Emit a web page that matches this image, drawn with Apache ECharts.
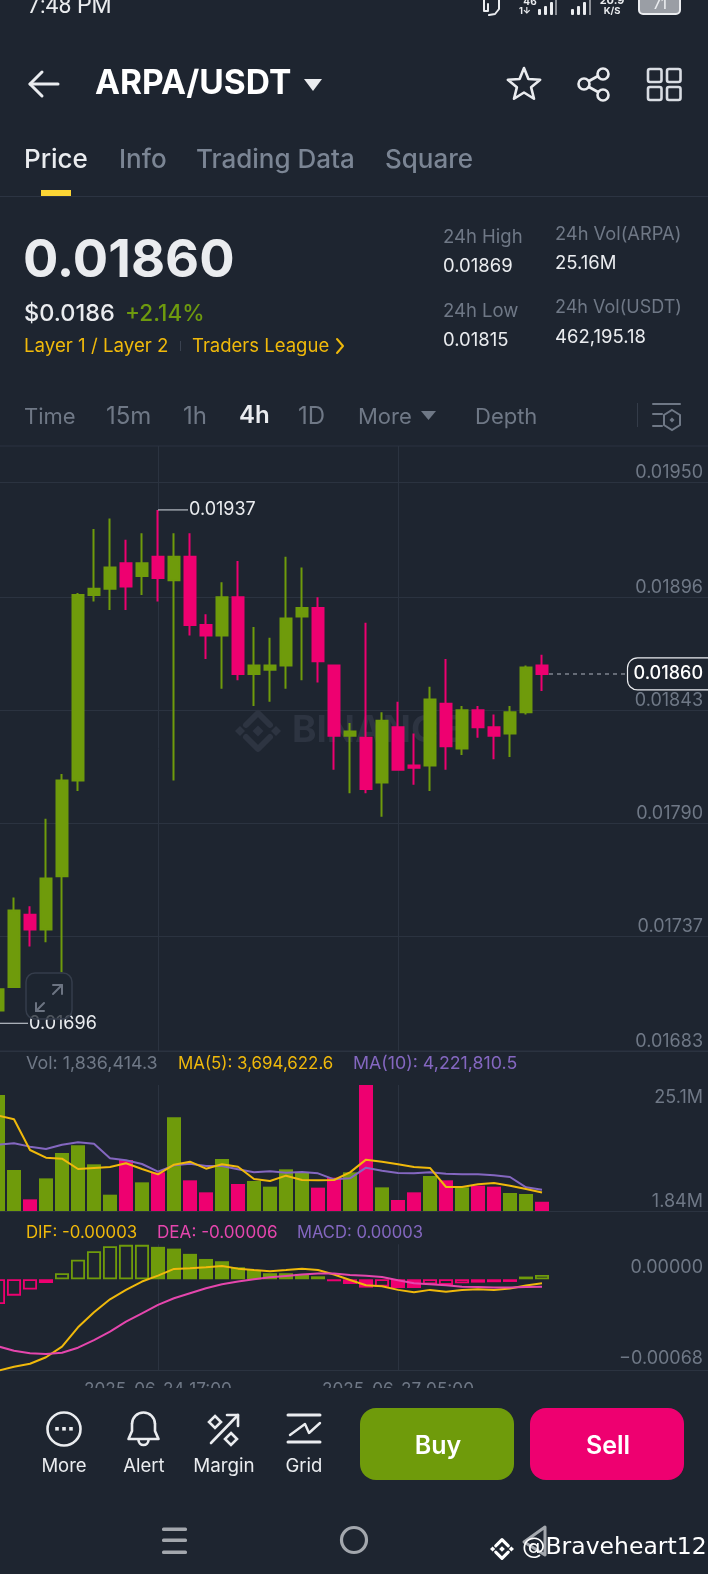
<!DOCTYPE html>
<html><head><meta charset="utf-8">
<style>html,body{margin:0;padding:0;background:#1e2530}#c{width:708px;height:1574px}</style>
<script src="https://cdn.jsdelivr.net/npm/echarts@6/dist/echarts.min.js"></script>
</head><body><div id="c"></div>
<script>
const categories = [
'2025-06-23 01:00','2025-06-23 05:00','2025-06-23 09:00','2025-06-23 13:00','2025-06-23 17:00','2025-06-23 21:00',
'2025-06-24 01:00','2025-06-24 05:00','2025-06-24 09:00','2025-06-24 13:00','2025-06-24 17:00','2025-06-24 21:00',
'2025-06-25 01:00','2025-06-25 05:00','2025-06-25 09:00','2025-06-25 13:00','2025-06-25 17:00','2025-06-25 21:00',
'2025-06-26 01:00','2025-06-26 05:00','2025-06-26 09:00','2025-06-26 13:00','2025-06-26 17:00','2025-06-26 21:00',
'2025-06-27 01:00','2025-06-27 05:00','2025-06-27 09:00','2025-06-27 13:00','2025-06-27 17:00','2025-06-27 21:00',
'2025-06-28 01:00','2025-06-28 05:00','2025-06-28 09:00','2025-06-28 13:00','2025-06-28 17:00','2025-06-28 21:00',
'2025-06-29 01:00','2025-06-29 05:00','2025-06-29 09:00','2025-06-29 13:00','2025-06-29 17:00','2025-06-29 21:00',
'2025-06-30 01:00','2025-06-30 05:00','2025-06-30 09:00','2025-06-30 13:00'];
const labelledCategories = [10, 25];
const openP  = [.01702,.01713,.01747,.01740,.01765,.01810,.01897,.01900,.01912,.01906,.01915,.01904,.01915,.01883,.01878,.01896,.01860,.01862,.01864,.01887,.01891,.01864,.01831,.01830,.01809,.01835,.01817,.01817,.01846,.01825,.01843,.01835,.01832,.01842,.01864];
const closeP = [.01712,.01749,.01740,.01764,.01810,.01897,.01900,.01910,.01901,.01912,.01905,.01915,.01883,.01878,.01896,.01860,.01864,.01864,.01886,.01891,.01866,.01831,.01833,.01806,.01838,.01815,.01816,.01848,.01826,.01843,.01835,.01831,.01842,.01863,.01860];
const lowP   = [.01700,.01713,.01732,.01734,.01720,.01805,.01894,.01890,.01890,.01897,.01894,.01810,.01878,.01867,.01853,.01857,.01845,.01847,.01853,.01857,.01856,.01815,.01804,.01804,.01793,.01815,.01808,.01805,.01815,.01822,.01830,.01820,.01821,.01841,.01852];
const highP  = [.01713,.01755,.01751,.01792,.01813,.01898,.01928,.01933,.01923,.01926,.01937,.01926,.01926,.01888,.01903,.01913,.01882,.01877,.01915,.01910,.01896,.01864,.01837,.01884,.01842,.01847,.01832,.01854,.01867,.01845,.01845,.01841,.01845,.01864,.01869];
const volumeM = [23.1,8.17,2.32,6.5,11.55,13.08,9.3,3.25,10.16,5.71,7.7,18.66,6.11,3.72,10.36,5.38,5.98,4.85,8.3,7.7,4.65,6.64,7.7,25.1,4.71,2.19,3.72,6.97,6.11,4.71,5.05,4.85,3.59,3.39,1.84];
const ma5M  = [19.0,18.26,12.15,10.62,10.42,8.37,8.57,8.76,9.5,8.37,7.3,9.23,9.83,8.43,9.3,8.83,6.37,5.98,7.04,6.18,6.11,6.18,7.7,10.23,9.83,9.3,8.76,8.57,4.78,4.78,5.31,5.58,5.05,4.38,3.69];
const ma10M = [13.2,13.48,12.82,12.35,13.21,13.68,13.41,10.49,10.09,9.36,7.84,9.1,9.43,8.96,8.96,8.3,7.7,7.9,7.64,7.77,7.5,6.31,6.51,8.63,8.03,7.57,7.5,7.7,7.44,7.3,7.3,7.1,6.77,4.71,4.22];
const dif = [-.00068,-.00065,-.000628,-.00058,-.000501,-.000357,-.000246,-.000149,-.000079,-.000017,.000027,.000077,.000082,.000089,.000099,.000079,.000069,.00006,.000069,.000079,.000069,.000035,-.000005,-.000045,-.000052,-.000079,-.000097,-.000079,-.000092,-.000079,-.000074,-.000079,-.000069,-.000047,-.00003];
const dea = [-.000499,-.000531,-.000551,-.000556,-.000546,-.000509,-.000452,-.00039,-.000315,-.000253,-.000191,-.000141,-.000104,-.000067,-.000037,-.000017,0,.000015,.000025,.000035,.000042,.000042,.000032,.000027,.000017,-.000007,-.00003,-.000037,-.000045,-.000055,-.000057,-.000062,-.000062,-.000057,-.000055];
const macdHist = [-.000184,-.000122,-.000077,-.000027,.000045,.000146,.000208,.000246,.000256,.000256,.000241,.000228,.000189,.000151,.000134,.000089,.000069,.000045,.000045,.00004,.000022,-.000015,-.000035,-.000062,-.000055,-.000065,-.000065,-.000037,-.000042,-.00003,-.000025,-.000022,-.00002,.00002,.000032];
const macdHollow = [1,1,1,1,1,1,1,1,1,1,0,0,0,0,0,0,0,0,0,0,0,0,0,0,1,0,0,1,1,1,1,0,0,0,1];
const priceTicks = [.01683,.01737,.01790,.01843,.01896,.01950];
const volTicks = [1.84,25.1];
const macdTicks = [-.00068,0];
const extremeIdx = [10,0];
const extremeVal = [.01937,.01696];
const lastIdx = [34];
const lastPrice = [.01860];

const BG='#1e2530',GREEN='#6f9b0b',PINK='#ee0070',YEL='#f0b90b',PUR='#8467c0',DEAC='#e546ad',GRIDC='#2b3340',GREY='#6f7886',WHITE='#eaecef',MUTE='#7b8594';
const F='Inter, "Noto Sans", sans-serif';
const g=[];
const T=(text,x,y,size,fill,weight,align,family)=>g.push({type:'text',z:60,silent:true,style:{text,x,y,fill,font:(weight||400)+' '+size+'px '+(family||F),textAlign:align||'left',textVerticalAlign:'middle'}});
const L=(pts,color,w,z)=>g.push({type:'polyline',z:z||60,silent:true,shape:{points:pts},style:{stroke:color,lineWidth:w,fill:null,lineCap:'round',lineJoin:'round'}});
const R=(x,y,w,h,fill,r,stroke,lw,z)=>g.push({type:'rect',z:z||60,silent:true,shape:{x,y,width:w,height:h,r:r||0},style:{fill:fill,stroke:stroke||null,lineWidth:lw||0}});
const C=(cx,cy,r,stroke,lw,fill)=>g.push({type:'circle',z:60,silent:true,shape:{cx,cy,r},style:{stroke,lineWidth:lw,fill:fill||null}});
const A=(cx,cy,r,a0,a1,stroke,lw)=>g.push({type:'arc',z:60,silent:true,shape:{cx,cy,r,startAngle:a0,endAngle:a1,clockwise:true},style:{stroke,lineWidth:lw,fill:null}});
const D=(cx,cy,r,fill,z)=>g.push({type:'polygon',z:z||60,silent:true,shape:{points:[[cx,cy-r],[cx+r,cy],[cx,cy+r],[cx-r,cy]]},style:{fill}});
const logo=(cx,cy,s,col,z)=>{const k=s/23;
 D(cx-18*k,cy,5*k,col,z);D(cx+18*k,cy,5*k,col,z);D(cx,cy,5.5*k,col,z);
 L([[cx-12*k,cy-6*k],[cx,cy-18*k],[cx+12*k,cy-6*k]],col,6*k,z);
 L([[cx-12*k,cy+6*k],[cx,cy+18*k],[cx+12*k,cy+6*k]],col,6*k,z);};

// watermark under the candles
logo(258,731,23,'#2d3441',0);
g.push({type:'text',z:0,silent:true,style:{text:'BINANCE',x:292,y:731,fill:'#2d3441',font:'700 37px '+F,textVerticalAlign:'middle'}});

// cover for the lower area, which clips the date labels
R(0,1388,708,186,BG,0,null,0,50);

// status bar
T('7:48 PM',27,7,23,WHITE,400,'left','Roboto');
L([[484,0],[484,11],[488,11],[488,4]],WHITE,2);L([[499,0],[499,9],[495,14],[489,15]],WHITE,2);
T('46',530,2,10,WHITE,700,'center');T('1↓',525,11,9,WHITE,700,'center');
[[538,9],[544,6],[550,2]].forEach(b=>R(b[0],b[1],3,15-b[1],WHITE,1));R(555,0,2,15,'#8b8f96');
[[571,9],[577,6],[583,2]].forEach(b=>R(b[0],b[1],3,15-b[1],WHITE,1));R(589,0,2,15,'#8b8f96');
T('20.9',612,1,11,WHITE,700,'center');T('K/S',612,11,9.5,WHITE,700,'center');
R(639,-6,41,20,'#9a9ea5',4,WHITE,2);T('71',660,5,14,WHITE,500,'center');

// navigation
L([[58,84],[30,84]],WHITE,3);L([[42,72],[30,84],[42,96]],WHITE,3);
T('ARPA/USDT',95,84,33.5,'#fff',700);
g.push({type:'polygon',z:60,silent:true,shape:{points:[[304,79],[322,79],[313,91]]},style:{fill:WHITE}});
{const cx=524,cy=85,pts=[];for(let i=0;i<10;i++){const r=i%2?7.5:17,a=-Math.PI/2+i*Math.PI/5;pts.push([cx+r*Math.cos(a),cy+r*Math.sin(a)]);}
 g.push({type:'polygon',z:60,silent:true,shape:{points:pts},style:{stroke:WHITE,lineWidth:2.6,fill:null,lineJoin:'round'}});}
C(603,74,5.5,WHITE,2.6);C(584,84,5.5,WHITE,2.6);C(603,95,5.5,WHITE,2.6);
L([[589,81],[598,76]],WHITE,2.6);L([[589,87],[598,92]],WHITE,2.6);
[[648,69],[667,69],[648,87],[667,87]].forEach(p=>R(p[0],p[1],13.5,13,null,2,'#d9dde3',2.6));

// tabs
T('Price',24,160,26,WHITE,500);T('Info',119,160,26,MUTE,500);T('Trading Data',196,160,26,MUTE,500);T('Square',385,160,26,MUTE,500);
R(41,190,30,6,'#fcd535');R(0,196,708,1,'#2c3442');

// price block
T('0.01860',23,261,52.5,WHITE,700);
T('$0.0186',24,314,23.5,WHITE,500);T('+2.14%',125,314,22.5,'#6e9a0e',500);
T('Layer 1 / Layer 2',24,346,18.7,YEL,400);R(180,341,1,10,'#3a4250');T('Traders League',192,346,18.5,YEL,400);
L([[337,339],[343,346],[337,353]],YEL,2);
T('24h High',443,237,18.5,GREY);T('0.01869',443,266,18.5,WHITE);
T('24h Low',443,311,18.5,GREY);T('0.01815',443,340,18.5,WHITE);
T('24h Vol(ARPA)',555,235,18.3,GREY);T('25.16M',555,263,18.5,WHITE);
T('24h Vol(USDT)',555,308,18,GREY);T('462,195.18',555,337,18.5,WHITE);

// timeframes
T('Time',24,417,22,GREY);T('15m',106,417,24,GREY);T('1h',183,417,24,GREY);T('4h',239,416,24,WHITE,600);T('1D',298,417,24,GREY);T('More',358,417,22,GREY);
g.push({type:'polygon',z:60,silent:true,shape:{points:[[421,411],[436,411],[428.5,420]]},style:{fill:GREY}});
T('Depth',475,417,22,GREY);R(637,403,1,24,'#343c49');
L([[653,404],[680,404]],GREY,2);L([[653,414],[662,414]],GREY,2);L([[653,426],[662,426]],GREY,2);
g.push({type:'polygon',z:60,silent:true,shape:{points:[[672,410],[680,415],[680,425],[672,430],[664,425],[664,415]]},style:{stroke:GREY,lineWidth:2,fill:null}});
D(672,420,2.5,GREY);

// expand button
R(26,973,46,46,'rgba(30,37,48,0.75)',9,'#353d4b',1.5,20);
L([[36,1011],[44,1003]],'#6c7482',2,21);L([[36,1003],[36,1011],[44,1011]],'#6c7482',2,21);
L([[53,994],[62,985]],'#6c7482',2,21);L([[53,985],[62,985],[62,994]],'#6c7482',2,21);

// legends
T('Vol: 1,836,414.3',26,1064,17.9,GREY);T('MA(5): 3,694,622.6',178,1064,16.9,YEL);T('MA(10): 4,221,810.5',353,1064,17.8,PUR);
T('DIF: -0.00003',26,1233,16.8,YEL);T('DEA: -0.00006',157,1233,17.1,DEAC);T('MACD: 0.00003',297,1233,16.6,PUR);

// bottom bar
C(64,1429,16.5,WHITE,2.6);[57,64,71].forEach(x=>R(x-1.8,1427,3.6,3.6,WHITE));
A(143.5,1424,11.5,Math.PI,2*Math.PI,WHITE,2.6);
L([[132,1424],[132,1431],[128.5,1439],[158.5,1439],[155,1431],[155,1424]],WHITE,2.6);
A(143.5,1440,5,0,Math.PI,WHITE,2.6);
L([[211,1443],[238,1415]],WHITE,2.6);L([[227,1415],[238,1415],[238,1426]],WHITE,2.6);
g.push({type:'polygon',z:60,silent:true,shape:{points:[[215,1416],[221,1422],[215,1428],[209,1422]]},style:{stroke:WHITE,lineWidth:2.6,fill:null}});
g.push({type:'polygon',z:60,silent:true,shape:{points:[[231,1433],[237,1439],[231,1445],[225,1439]]},style:{stroke:WHITE,lineWidth:2.6,fill:null}});
L([[288,1415],[320,1415]],WHITE,3);L([[288,1442],[320,1442]],WHITE,3);L([[290,1435],[305,1424],[309,1433],[320,1423]],WHITE,2.4);
T('More',64,1466,18.5,WHITE,400,'center');T('Alert',144,1466,18.5,WHITE,400,'center');T('Margin',224,1466,18.8,WHITE,400,'center');T('Grid',304,1466,18.5,WHITE,400,'center');
R(360,1408,154,72,GREEN,16);T('Buy',438,1446,25,'#fff',600,'center');
R(530,1408,154,72,PINK,16);T('Sell',608,1446,25,'#fff',600,'center');
[1529,1540,1552].forEach(y=>R(162,y-1.5,25,3.5,'#a3a7ad',1.5));
C(354,1540,12.5,'#a3a7ad',3.2);
g.push({type:'polygon',z:60,silent:true,shape:{points:[[545,1527],[524,1542],[545,1555]]},style:{stroke:'#a3a7ad',lineWidth:3,fill:null,lineJoin:'round'}});
logo(502,1549,12,'#fff',61);
T('@Braveheart12',522,1548,23.5,'#fff',400,'left','"DejaVu Sans"');

const axisFont={fontFamily:F,fontSize:18,color:GREY};
const xBase=(gi,showLabel)=>({type:'category',gridIndex:gi,data:categories,boundaryGap:false,
  axisLine:{show:gi!==0,onZero:false,lineStyle:{color:GRIDC,width:1.2}},axisTick:{show:false},
  splitLine:{show:true,interval:i=>labelledCategories.includes(i),lineStyle:{color:GRIDC}},
  axisLabel:showLabel?{show:true,interval:i=>labelledCategories.includes(i),margin:11,fontFamily:F,fontSize:17.2,color:GREY,hideOverlap:false}:{show:false}});

const macdData=macdHist.map((v,i)=>{const col=v>=0?GREEN:PINK;return {value:v,itemStyle:macdHollow[i]?{color:'rgba(0,0,0,0)',borderColor:col,borderWidth:1.8}:{color:col}};});

const chart=echarts.init(document.getElementById('c'),null,{width:708,height:1574});
chart.setOption({
 backgroundColor:BG,animation:false,
 graphic:{elements:g},
 grid:[
  {left:-2,width:720,top:446,height:605,outerBoundsMode:'none',show:true,borderColor:GRIDC,borderWidth:1.2,backgroundColor:'transparent'},
  {left:-2,width:720,top:1085,height:126,outerBoundsMode:'none'},
  {left:-2,width:720,top:1244.3,height:126.4,outerBoundsMode:'none'}],
 xAxis:[xBase(0,false),xBase(1,false),xBase(2,true)],
 yAxis:[
  {type:'value',gridIndex:0,position:'right',min:.01683,max:.01967,scale:true,axisLine:{show:false},axisTick:{show:false,customValues:priceTicks},
   splitLine:{show:true,lineStyle:{color:GRIDC}},
   axisLabel:Object.assign({inside:true,margin:15,customValues:priceTicks,verticalAlign:'bottom',lineHeight:19,formatter:v=>v.toFixed(5)},axisFont)},
  {type:'value',gridIndex:1,position:'right',min:0,max:25.1,axisLine:{show:false},axisTick:{show:false,customValues:volTicks},splitLine:{show:false},
   axisLabel:Object.assign({inside:true,margin:15,customValues:volTicks,lineHeight:25,verticalAlignMaxLabel:'top',verticalAlignMinLabel:'middle',verticalAlign:'middle',formatter:v=>v>=10?v.toFixed(1)+'M':v.toFixed(2)+'M'},axisFont)},
  {type:'value',gridIndex:2,position:'right',min:-.00068,max:.00026,axisLine:{show:false},axisTick:{show:false,customValues:macdTicks},splitLine:{show:false},
   axisLabel:Object.assign({inside:true,margin:15,customValues:macdTicks,verticalAlign:'bottom',lineHeight:24,formatter:v=>v.toFixed(5).replace('-','−')},axisFont)}],
 series:[
  {type:'candlestick',xAxisIndex:0,yAxisIndex:0,barWidth:12,clip:false,z:5,
   data:openP.map((o,i)=>[o,closeP[i],lowP[i],highP[i]]),
   itemStyle:{color:GREEN,color0:PINK,borderColor:GREEN,borderColor0:PINK,borderWidth:2}},
  {type:'custom',xAxisIndex:0,yAxisIndex:0,z:6,clip:false,data:extremeIdx.map((x,i)=>[x,extremeVal[i]]),
   renderItem:(p,api)=>{const c=api.coord([api.value(0),api.value(1)]);const x1=p.dataIndex===0?c[0]+30:c[0]+30;
     return {type:'group',children:[
      {type:'line',shape:{x1:c[0],y1:c[1],x2:x1,y2:c[1]},style:{stroke:'#b9bec6',lineWidth:1.2}},
      {type:'text',style:{text:api.value(1).toFixed(5),x:x1+1,y:c[1],fill:WHITE,font:'400 18px '+F,textAlign:'left',textVerticalAlign:'middle'}}]};},
   encode:{x:0,y:1}},
  {type:'custom',xAxisIndex:0,yAxisIndex:0,z:7,clip:false,data:lastIdx.map((x,i)=>[x,lastPrice[i]]),
   renderItem:(p,api)=>{const c=api.coord([api.value(0),api.value(1)]);
     return {type:'group',children:[
      {type:'line',shape:{x1:c[0]+7,y1:c[1],x2:627,y2:c[1]},style:{stroke:'#aeb4bd',lineWidth:1.1,lineDash:[4,4]}},
      {type:'rect',shape:{x:627.5,y:c[1]-16,width:90,height:32,r:10},style:{fill:BG,stroke:WHITE,lineWidth:1.2}},
      {type:'text',style:{text:api.value(1).toFixed(5),x:703,y:c[1],fill:'#fff',font:'500 18px '+F,textAlign:'right',textVerticalAlign:'middle'}}]};},
   encode:{x:0,y:1}},
  {type:'bar',xAxisIndex:1,yAxisIndex:1,barWidth:14,data:volumeM,z:3,
   itemStyle:{color:p=>closeP[p.dataIndex]>=openP[p.dataIndex]?GREEN:PINK}},
  {type:'line',xAxisIndex:1,yAxisIndex:1,data:ma10M,symbol:'none',z:4,lineStyle:{color:PUR,width:2}},
  {type:'line',xAxisIndex:1,yAxisIndex:1,data:ma5M,symbol:'none',z:5,lineStyle:{color:YEL,width:2}},
  {type:'bar',xAxisIndex:2,yAxisIndex:2,barWidth:14,data:macdData,z:3},
  {type:'line',xAxisIndex:2,yAxisIndex:2,data:dif,symbol:'none',z:4,lineStyle:{color:YEL,width:2}},
  {type:'line',xAxisIndex:2,yAxisIndex:2,data:dea,symbol:'none',z:5,lineStyle:{color:DEAC,width:2}}
 ]
});
</script></body></html>
